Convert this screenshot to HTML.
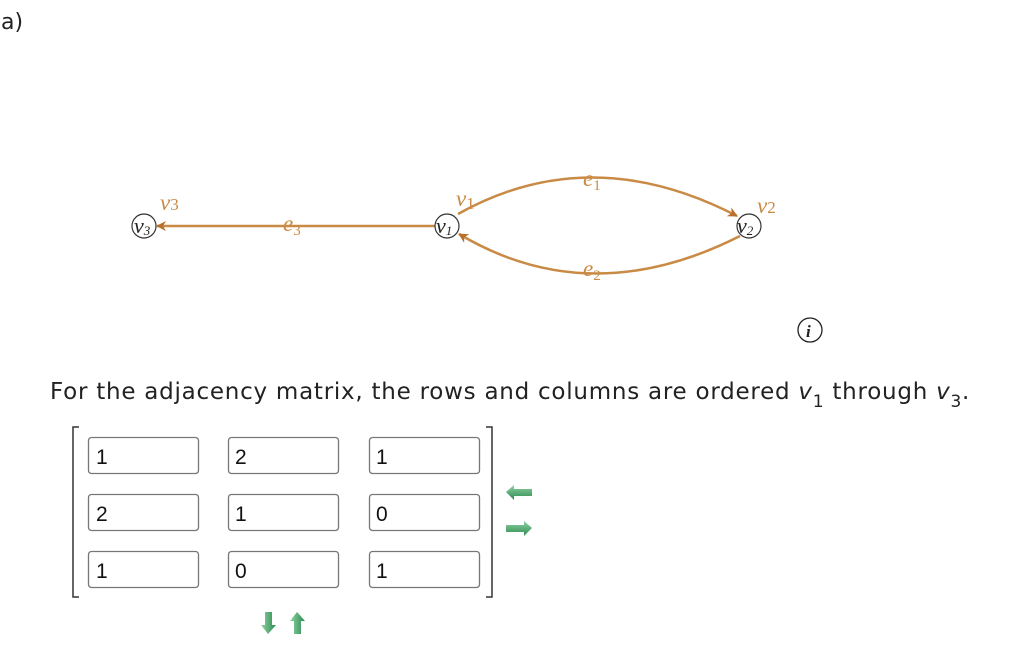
<!DOCTYPE html>
<html><head><meta charset="utf-8"><style>
body{margin:0;background:#fff;width:1024px;height:661px;overflow:hidden}
svg{display:block}
</style></head><body>
<svg width="1024" height="661" viewBox="0 0 1024 661" xmlns="http://www.w3.org/2000/svg">
<defs>
<marker id="ah" markerWidth="10" markerHeight="10" refX="9" refY="5" orient="auto" markerUnits="userSpaceOnUse">
<path d="M0,0 L10,5 L0,10 L3,5 Z" fill="#b8702a"/></marker>
<linearGradient id="g" x1="0" y1="0" x2="0" y2="1"><stop offset="0" stop-color="#8fd3a4"/><stop offset="1" stop-color="#2e8a50"/></linearGradient>
<linearGradient id="gv" x1="0" y1="0" x2="1" y2="0"><stop offset="0" stop-color="#8fd3a4"/><stop offset="1" stop-color="#2e8a50"/></linearGradient>
</defs>
<text x="1" y="29" font-family="DejaVu Sans, sans-serif" font-size="22" fill="#222">a)</text>

<g stroke="#c98a45" stroke-width="2.5" fill="none">
<line x1="435" y1="226" x2="157" y2="226" marker-end="url(#ah)"/>
<path d="M458,214 Q590,140 737,216" marker-end="url(#ah)"/>
<path d="M740,236 Q590,312 459,234" marker-end="url(#ah)"/>
</g>
<g stroke="#333" stroke-width="1.2" fill="#fff">
<circle cx="144" cy="226" r="12"/><circle cx="447" cy="226" r="12"/><circle cx="749" cy="226" r="12"/>
</g>
<g font-family="Liberation Serif, serif" font-style="italic" font-size="22" fill="#222">
<text x="134" y="233">v<tspan font-size="13" dy="2">3</tspan></text>
<text x="436" y="233">v<tspan font-size="13" dy="2">1</tspan></text>
<text x="737" y="233">v<tspan font-size="13" dy="2">2</tspan></text>
</g>
<g font-family="Liberation Serif, serif" font-style="italic" font-size="23" fill="#c98a45">
<text x="160" y="210">v<tspan font-style="normal" font-size="17">3</tspan></text>
<text x="456" y="206">v<tspan font-style="normal" font-size="17" dy="3">1</tspan></text>
<text x="757" y="213">v<tspan font-style="normal" font-size="17">2</tspan></text>
<text x="583" y="186">e<tspan font-style="normal" font-size="15" dy="4">1</tspan></text>
<text x="583" y="276">e<tspan font-style="normal" font-size="15" dy="4">2</tspan></text>
<text x="283" y="231">e<tspan font-style="normal" font-size="15" dy="4">3</tspan></text>
</g>

<circle cx="810" cy="330" r="12" fill="none" stroke="#222" stroke-width="1.3"/>
<text x="806" y="337" font-family="Liberation Serif, serif" font-style="italic" font-weight="bold" font-size="17" fill="#222">i</text>

<text x="50" y="399" font-family="DejaVu Sans, sans-serif" font-size="23" letter-spacing="0.75" fill="#222">For the adjacency matrix, the rows and columns are ordered <tspan font-style="italic">v</tspan><tspan font-size="17" dy="8">1</tspan><tspan dy="-8"> through </tspan><tspan font-style="italic">v</tspan><tspan font-size="17" dy="8">3</tspan><tspan dy="-8">.</tspan></text>

<g fill="none" stroke="#333" stroke-width="1.5">
<path d="M79,427 H73 V597 H79"/>
<path d="M486,427 H492 V597 H486"/>
</g>
<g fill="#fff" stroke="#777" stroke-width="1.3">
<rect x="88.5" y="437.5" width="110" height="36" rx="3"/><rect x="228.5" y="437.5" width="110" height="36" rx="3"/><rect x="369.5" y="437.5" width="110" height="36" rx="3"/>
<rect x="88.5" y="494.5" width="110" height="36" rx="3"/><rect x="228.5" y="494.5" width="110" height="36" rx="3"/><rect x="369.5" y="494.5" width="110" height="36" rx="3"/>
<rect x="88.5" y="551.5" width="110" height="36" rx="3"/><rect x="228.5" y="551.5" width="110" height="36" rx="3"/><rect x="369.5" y="551.5" width="110" height="36" rx="3"/>
</g>
<g font-family="Liberation Sans, sans-serif" font-size="21" fill="#111">
<text x="96" y="464">1</text><text x="235" y="464">2</text><text x="376" y="464">1</text>
<text x="96" y="521">2</text><text x="235" y="521">1</text><text x="376" y="521">0</text>
<text x="96" y="578">1</text><text x="235" y="578">0</text><text x="376" y="578">1</text>
</g>
<path d="M506,492 L514,485 V489 H532 V496 H514 V500 Z" fill="url(#g)"/>
<path d="M532,528 L524,521 V525 H506 V532 H524 V536 Z" fill="url(#g)"/>
<path d="M268,634 L261,625 H265 V612 H272 V625 H276 Z" fill="url(#gv)"/>
<path d="M297,612 L290,621 H294 V634 H301 V621 H305 Z" fill="url(#gv)"/>
</svg>
</body></html>
